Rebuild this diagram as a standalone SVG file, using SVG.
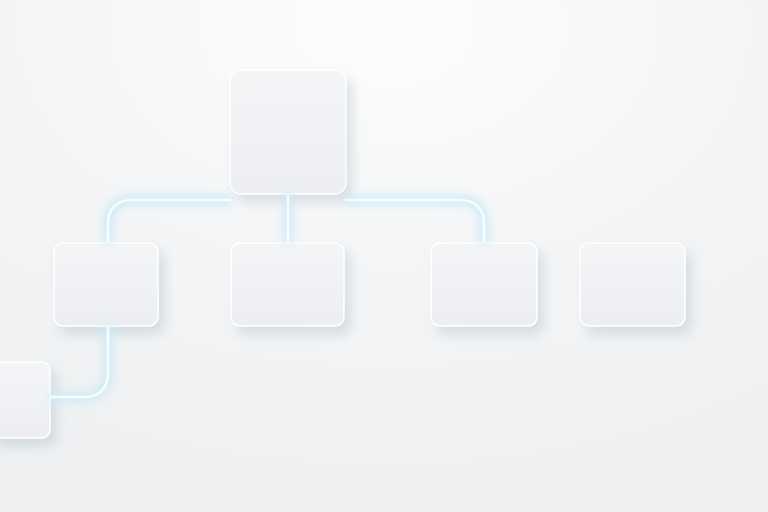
<svg xmlns="http://www.w3.org/2000/svg" width="768" height="512" viewBox="0 0 768 512">
<defs>
<radialGradient id="bg" cx="0.5" cy="0.05" r="0.95">
<stop offset="0" stop-color="#fdfdfd"/>
<stop offset="0.5" stop-color="#f4f5f6"/>
<stop offset="1" stop-color="#eef0f2"/>
</radialGradient>
<linearGradient id="face" x1="0" y1="0" x2="0" y2="1">
<stop offset="0" stop-color="#f4f5f7"/>
<stop offset="1" stop-color="#eceef1"/>
</linearGradient>
<filter id="shadow" x="-30%" y="-30%" width="170%" height="170%">
<feGaussianBlur in="SourceAlpha" stdDeviation="6"/>
<feOffset dx="6" dy="8" result="b"/>
<feFlood flood-color="#a8bccc" flood-opacity="0.4"/>
<feComposite in2="b" operator="in"/>
<feMerge><feMergeNode/><feMergeNode in="SourceGraphic"/></feMerge>
</filter>
<filter id="glow" filterUnits="userSpaceOnUse" x="-50" y="-50" width="868" height="612">
<feGaussianBlur stdDeviation="4"/>
</filter>
<style>
.box{fill:url(#face);stroke:#ffffff;stroke-width:1.5;filter:url(#shadow)}
.halo{fill:none;stroke:#cdebf7;stroke-width:10;filter:url(#glow);stroke-linecap:butt}
.core{fill:none;stroke:#f7fdff;stroke-width:2.5;stroke-linecap:butt}
</style>
</defs>
<rect width="768" height="512" fill="url(#bg)"/>
<g id="node-top"><rect class="box" x="230" y="70" width="116" height="124" rx="11"/></g>
<g id="node-a"><rect class="box" x="54" y="243" width="104" height="83" rx="9"/></g>
<g id="node-b"><rect class="box" x="231" y="243" width="113" height="83" rx="9"/></g>
<g id="node-c"><rect class="box" x="431" y="243" width="106" height="83" rx="9"/></g>
<g id="node-d"><rect class="box" x="580" y="243" width="105" height="83" rx="9"/></g>
<g id="node-e"><rect class="box" x="-12" y="362" width="62" height="76" rx="8"/></g>
<g id="connectors">
<path class="halo" d="M231 200 H133 Q108 200 108 225 V243"/>
<path class="halo" d="M345 200 H459 Q484 200 484 225 V243"/>
<path class="halo" d="M288 195 V243"/>
<path class="halo" d="M108 326 V372 Q108 397 83 397 H51"/>
<path class="core" d="M231 200 H133 Q108 200 108 225 V243"/>
<path class="core" d="M345 200 H459 Q484 200 484 225 V243"/>
<path class="core" d="M288 195 V243"/>
<path class="core" d="M108 326 V372 Q108 397 83 397 H51"/>
</g>
</svg>
